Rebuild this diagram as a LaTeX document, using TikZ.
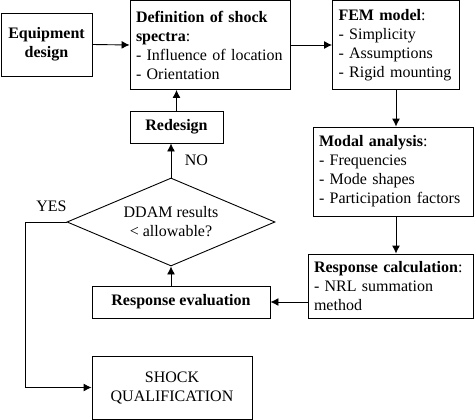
\documentclass[tikz,border=0pt]{standalone}
\usepackage{fontspec}
\setmainfont{Liberation Serif}
\usetikzlibrary{shapes.geometric, arrows.meta}

\tikzset{
  txt/.style={font=\fontsize{16}{19}\selectfont},
  box/.style={txt, draw, line width=0.9pt, inner xsep=6pt, inner ysep=3pt},
  decision/.style={txt, draw, line width=0.9pt, diamond, aspect=2.36, inner sep=0pt,
    minimum width=208pt, minimum height=88pt, align=center},
  flow/.style={line width=0.9pt, -{Latex[length=8pt, width=8pt]}}
}

\begin{document}
\begin{tikzpicture}[x=1pt, y=-1pt]
    \useasboundingbox (0,0) rectangle (474,420);
    % boxes
    \node[box, minimum width=91pt, minimum height=63pt, align=center] (equip) at (46.5,44.5) {\textbf{Equipment}\\\textbf{design}};
    \node[box, text width=148pt, minimum height=89pt, align=left] (spectra) at (210,45) {\textbf{Definition of shock}\\\textbf{spectra}:\\- Influence of location\\- Orientation};
    \node[box, text width=115pt, minimum height=89pt, align=left] (fem) at (396,45) {\textbf{FEM model}:\\- Simplicity\\- Assumptions\\- Rigid mounting};
    \node[box, minimum width=93pt, minimum height=32pt] (redesign) at (176.5,127) {\textbf{Redesign}};
    \node[decision] (decide) at (171,222) {DDAM results\\< allowable?};
    \node[box, text width=148pt, minimum height=89pt, align=left] (modal) at (393,171.5) {\textbf{Modal analysis}:\\- Frequencies\\- Mode shapes\\- Participation factors};
    \node[box, text width=153pt, minimum height=64pt, align=left] (respcalc) at (390.5,286) {\textbf{Response calculation}:\\- NRL summation\\method};
    \node[box, minimum width=178pt, minimum height=32pt] (respeval) at (181,302) {\textbf{Response evaluation}};
    \node[box, minimum width=160pt, minimum height=63pt, align=center] (shock) at (172,387.5) {SHOCK\\QUALIFICATION};
    % arrows
    \draw[flow] (equip.east) -- (spectra.west);
    \draw[flow] (spectra.east) -- (fem.west);
    \draw[flow] (fem.south) -- (fem.south |- modal.north);
    \draw[flow] (fem.south |- modal.south) -- (fem.south |- respcalc.north);
    \draw[flow] (respcalc.west |- respeval.east) -- (respeval.east);
    \draw[flow] (decide.south |- respeval.north) -- (decide.south);
    \draw[flow] (decide.north) -- node[txt, right=10pt] {NO} (decide.north |- redesign.south);
    \draw[flow] (redesign.north) -- (redesign.north |- spectra.south);
    \draw[flow] (decide.west) -- node[txt, pos=0.37, above=7pt] {YES} ++(-41,0) |- (shock.west);
\end{tikzpicture}
\end{document}
